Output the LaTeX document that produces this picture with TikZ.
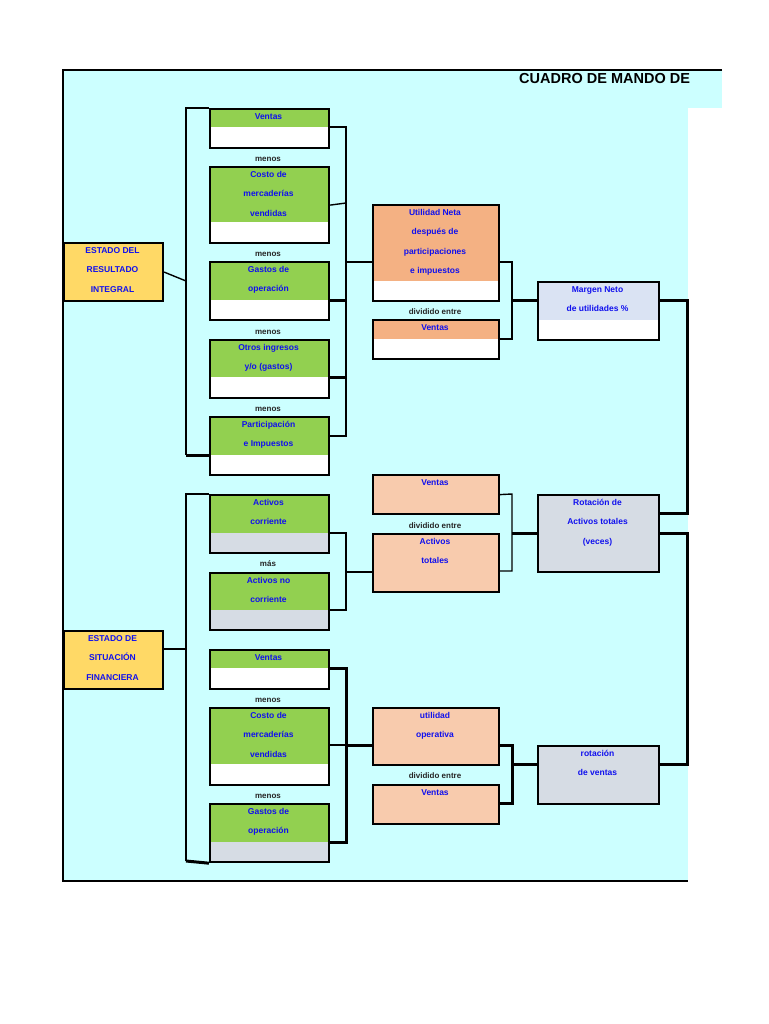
\documentclass[tikz,border=0pt]{standalone}
\usepackage{fontspec}
\setmainfont{Liberation Sans}
\definecolor{bgc}{HTML}{CCFFFF}
\definecolor{grn}{HTML}{92D050}
\definecolor{yel}{HTML}{FFD966}
\definecolor{org}{HTML}{F4B183}
\definecolor{pch}{HTML}{F8CBAD}
\definecolor{lbl}{HTML}{DAE3F3}
\definecolor{gry}{HTML}{D6DCE4}
\definecolor{txb}{HTML}{1010EE}
\tikzset{
  box/.style={draw=black, line width=2.2pt, anchor=north west, inner sep=0pt},
  btxt/.style={anchor=north, text=txb, font=\fontsize{8.5}{19.5}\selectfont\bfseries, align=center, inner sep=0pt},
  op/.style={font=\fontsize{8}{9}\selectfont\bfseries, text=black!85},
  con/.style={line width=1.4pt},
  conb/.style={line width=3pt},
}
% name x1 y1 x2 y2 ysplit topcolor bottomcolor text
\newcommand\mybx[9]{%
  \fill[#7] (#2,#3) rectangle (#4,#6);
  \fill[#8] (#2,#6) rectangle (#4,#5);
  \node[box, minimum width={(#4-#2)*1pt}, minimum height={(#5-#3)*1pt}] (#1) at (#2,#3) {};
  \node[btxt] at ({(#2+#4)/2},{#3+5}) {#9};
}
\begin{document}
\begin{tikzpicture}[x=1pt,y=-1pt]
\useasboundingbox (0,0) rectangle (768,1024);
\fill[bgc] (63,70) rectangle (688,881);
\fill[bgc] (688,70) rectangle (722,108);
\draw[line width=2pt] (722,70) -- (63,70) -- (63,881) -- (688,881);
\begin{scope}
\clip (500,70) rectangle (721,108);
\node[anchor=base west, font=\fontsize{14.5}{16}\selectfont\bfseries, inner sep=0pt] (title) at (519,84) {CUADRO DE MANDO DE};
\end{scope}

% ---- Estado del resultado
\mybx{er}{63}{242}{162}{300}{300}{yel}{yel}{ESTADO DEL\\RESULTADO\\INTEGRAL}
\mybx{a1}{209}{108}{328}{147}{127}{grn}{white}{Ventas}
\mybx{a2}{209}{166}{328}{242}{222}{grn}{white}{Costo de\\mercaderías\\vendidas}
\mybx{a3}{209}{261}{328}{319}{300}{grn}{white}{Gastos de\\operación}
\mybx{a4}{209}{339}{328}{397}{377}{grn}{white}{Otros ingresos\\y/o (gastos)}
\mybx{a5}{209}{416}{328}{474}{455}{grn}{white}{Participación\\e Impuestos}
\node[op] (m1) at (268,159) {menos};
\node[op] (m2) at (268,254) {menos};
\node[op] (m3) at (268,332) {menos};
\node[op] (m4) at (268,409) {menos};
\mybx{un}{372}{204}{498}{300}{281}{org}{white}{Utilidad Neta\\después de\\participaciones\\e impuestos}
\node[op] (d1) at (435,312) {dividido entre};
\mybx{v1}{372}{319}{498}{358}{339}{org}{white}{Ventas}
\mybx{mn}{537}{281}{658}{339}{320}{lbl}{white}{Margen Neto\\de utilidades \%}

\draw[con] (er.east) -- (186,281);
\draw[con] (a1.north west) -- (186,108) -- (186,455);
\draw[conb] (186,455) -- (a5.west |- 0,455);
\draw[con] (a1.east |- 0,127) -- (346,127) -- (346,436) -- (a5.east |- 0,436);
\draw[con] (a2.east) -- (346,203);
\draw[conb] (a3.east |- 0,300) -- (346,300);
\draw[conb] (a4.east |- 0,377) -- (346,377);
\draw[con] (346,262) -- (un.west |- 0,262);
\draw[con] (un.east |- 0,262) -- (512,262) -- (512,339) -- (v1.east |- 0,339);
\draw[conb] (512,300) -- (mn.west |- 0,300);

% ---- Activos
\mybx{v2}{372}{474}{498}{513}{513}{pch}{pch}{Ventas}
\node[op] (d2) at (435,526) {dividido entre};
\mybx{at}{372}{533}{498}{591}{591}{pch}{pch}{Activos\\totales}
\mybx{rt}{537}{494}{658}{571}{571}{gry}{gry}{Rotación de\\Activos totales\\(veces)}
\mybx{b1}{209}{494}{328}{552}{533}{grn}{gry}{Activos\\corriente}
\node[op] (ms) at (268,564) {más};
\mybx{b2}{209}{572}{328}{629}{610}{grn}{gry}{Activos no\\corriente}
\draw[con] (b1.east |- 0,533) -- (346,533) -- (346,610) -- (b2.east |- 0,610);
\draw[con] (346,572) -- (at.west |- 0,572);
\draw[con] (v2.east) -- (512,494) -- (512,571) -- (at.east |- 0,571);
\draw[conb] (512,533) -- (rt.west |- 0,533);

% ---- Estado de situación
\mybx{es}{63}{630}{162}{688}{688}{yel}{yel}{ESTADO DE\\SITUACIÓN\\FINANCIERA}
\mybx{c1}{209}{649}{328}{688}{668}{grn}{white}{Ventas}
\node[op] (m5) at (268,700) {menos};
\mybx{c2}{209}{707}{328}{784}{764}{grn}{white}{Costo de\\mercaderías\\vendidas}
\node[op] (m6) at (268,796) {menos};
\mybx{c3}{209}{803}{328}{861}{842}{grn}{gry}{Gastos de\\operación}
\draw[con] (es.east |- 0,649) -- (186,649);
\draw[con] (b1.north west) -- (186,494) -- (186,861);
\draw[conb] (186,861) -- (c3.south west);
\draw[conb] (c1.east |- 0,668) -- (346,668) -- (346,842) -- (c3.east |- 0,842);
\draw[con] (c2.east |- 0,745) -- (346,745);
\mybx{uo}{372}{707}{498}{764}{764}{pch}{pch}{utilidad\\operativa}
\node[op] (d3) at (435,776) {dividido entre};
\mybx{v3}{372}{784}{498}{823}{823}{pch}{pch}{Ventas}
\mybx{rv}{537}{745}{658}{803}{803}{gry}{gry}{rotación\\de ventas}
\draw[conb] (346,745) -- (uo.west |- 0,745);
\draw[conb] (uo.east |- 0,745) -- (512,745) -- (512,803) -- (v3.east |- 0,803);
\draw[conb] (512,764) -- (rv.west |- 0,764);

% ---- right side
\draw[conb] (mn.east |- 0,300) -- (687,300) -- (687,513) -- (rt.east |- 0,513);
\draw[conb] (rt.east |- 0,533) -- (687,533) -- (687,764) -- (rv.east |- 0,764);
\end{tikzpicture}
\end{document}
